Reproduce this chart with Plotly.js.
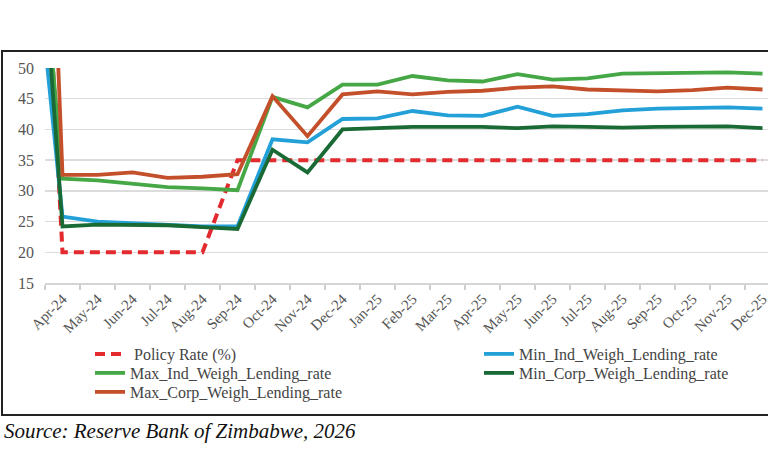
<!DOCTYPE html>
<html>
<head>
<meta charset="utf-8">
<script src="https://cdn.plot.ly/plotly-3.0.1.min.js"></script>
<style>
  html, body { margin: 0; padding: 0; background: #fff; overflow: hidden; }
  #wrap { position: relative; width: 768px; height: 461px; overflow: hidden; }
  #chart { position: absolute; left: 0; top: 0; width: 840px; height: 461px; }
  #frame { position: absolute; left: 1px; top: 50px; width: 860px; height: 362px;
           border: 2px solid #222; pointer-events: none; }
</style>
</head>
<body>
<div id="wrap">
  <div id="chart"></div>
  <div id="frame"></div>
</div>
<script>
// Monthly lending rates vs. policy rate (%); Mar-24 is the lead-in month before the axis starts
const months = ["Mar-24","Apr-24","May-24","Jun-24","Jul-24","Aug-24","Sep-24","Oct-24","Nov-24","Dec-24",
  "Jan-25","Feb-25","Mar-25","Apr-25","May-25","Jun-25","Jul-25","Aug-25","Sep-25","Oct-25","Nov-25","Dec-25"];

const policyRate   = [130, 20, 20, 20, 20, 20, 35, 35, 35, 35, 35, 35, 35, 35, 35, 35, 35, 35, 35, 35, 35, 35];
const minIndRate   = [82, 25.8, 25.0, 24.7, 24.5, 24.2, 24.2, 38.4, 37.9, 41.7, 41.8, 43.0, 42.3, 42.2, 43.7, 42.2, 42.5, 43.1, 43.4, 43.5, 43.6, 43.4];
const maxIndRate   = [98, 32.0, 31.7, 31.1, 30.6, 30.4, 30.1, 45.3, 43.6, 47.3, 47.3, 48.7, 48.0, 47.8, 49.0, 48.1, 48.3, 49.1, 49.2, 49.3, 49.3, 49.1];
const minCorpRate  = [103, 24.2, 24.5, 24.5, 24.4, 24.1, 23.8, 36.7, 33.0, 40.0, 40.2, 40.4, 40.4, 40.4, 40.2, 40.5, 40.4, 40.3, 40.4, 40.4, 40.5, 40.2];
const maxCorpRate  = [178, 32.6, 32.6, 33.0, 32.1, 32.3, 32.7, 45.4, 38.9, 45.7, 46.2, 45.7, 46.1, 46.3, 46.8, 47.0, 46.5, 46.3, 46.2, 46.4, 46.8, 46.5];

const yTicks = [15, 20, 25, 30, 35, 40, 45, 50];

const serif = "Liberation Serif";

function series(name, y, color, legendId, dash) {
  return {
    type: "scatter", mode: "lines", name: name, legend: legendId,
    x: months, y: y,
    line: { color: color, width: dash ? 4 : 3.8, dash: dash || "solid" },
    hoverinfo: "skip"
  };
}

const traces = [
  series(" Policy Rate (%)", policyRate, "#e32a2e", "legend", "10px,6px"),
  series("Min_Ind_Weigh_Lending_rate", minIndRate, "#23a0d8", "legend2"),
  series("Max_Ind_Weigh_Lending_rate", maxIndRate, "#45a745", "legend3"),
  series("Min_Corp_Weigh_Lending_rate", minCorpRate, "#1a6a35", "legend4"),
  series("Max_Corp_Weigh_Lending_rate", maxCorpRate, "#c4502b", "legend5")
];

// plot box in pixels
const W = 840, H = 461, L = 45, PW = 770, T = 68, PH = 215;
const px = x => (x - L) / PW;
const py = y => (T + PH - y) / PH;

function legendAt(x, y) {
  return {
    x: px(x), xanchor: "left", y: py(y), yanchor: "middle",
    font: { family: serif, size: 16, color: "#444" },
    bgcolor: "rgba(0,0,0,0)", borderwidth: 0
  };
}

const layout = {
  width: W, height: H,
  margin: { l: L, r: W - L - PW, t: T, b: H - T - PH, pad: 0 },
  paper_bgcolor: "#fff", plot_bgcolor: "#fff",
  showlegend: true,
  font: { family: serif, color: "#555" },
  xaxis: {
    type: "category", categoryorder: "array", categoryarray: months,
    range: [0.5, 22.5],
    tickson: "boundaries",
    ticks: "outside", ticklen: 5, tickcolor: "#cfcfcf", tickwidth: 1.5,
    showline: true, linecolor: "#d5d5d5", linewidth: 1.5,
    showgrid: false, zeroline: false,
    tickangle: -45, automargin: false,
    tickfont: { family: serif, size: 15, color: "#555" }
  },
  yaxis: {
    range: [15, 50], tickvals: yTicks, ticktext: yTicks.map(String),
    showgrid: true, gridcolor: "#dcdcdc", gridwidth: 1.5,
    zeroline: false, showline: false, ticks: "", automargin: false,
    ticklabelstandoff: 10,
    tickfont: { family: serif, size: 16, color: "#555" }
  },
  legend: legendAt(90, 354),
  legend2: legendAt(479, 354),
  legend3: legendAt(90, 373),
  legend4: legendAt(479, 373),
  legend5: legendAt(90, 392),
  annotations: [{
    text: "<i>Source: Reserve Bank of Zimbabwe, 2026</i>",
    xref: "paper", yref: "paper",
    x: px(2), xanchor: "left",
    y: py(431), yanchor: "middle",
    showarrow: false,
    font: { family: serif, size: 21, color: "#111" }
  }]
};

Plotly.newPlot("chart", traces, layout, { staticPlot: true, displayModeBar: false });
</script>
</body>
</html>
